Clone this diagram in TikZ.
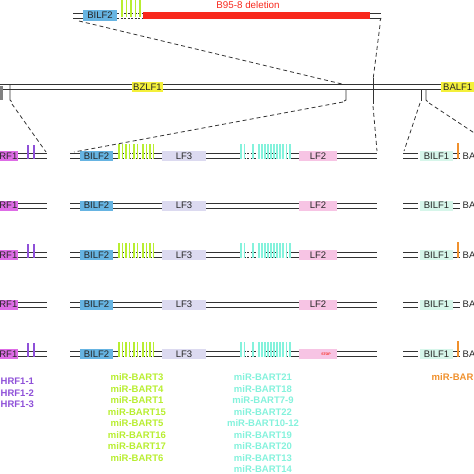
\documentclass[tikz,border=0pt]{standalone}
\usepackage{fontspec}
\setmainfont{Liberation Sans}
\usetikzlibrary{positioning}

\definecolor{strand}{HTML}{333333}
\definecolor{bilftwo}{HTML}{66B4E2}
\definecolor{zyellow}{HTML}{F4F03A}
\definecolor{lfthree}{HTML}{DCDAF0}
\definecolor{lftwo}{HTML}{F7C4E4}
\definecolor{bilfone}{HTML}{D6F6EA}
\definecolor{hrfmag}{HTML}{DE6CE6}
\definecolor{clustone}{HTML}{B8EE30}
\definecolor{clusttwo}{HTML}{84F2DC}
\definecolor{hrfpurple}{HTML}{8E50D8}
\definecolor{bartorange}{HTML}{F0902C}
\definecolor{delred}{HTML}{F8281C}

\newcommand{\dnastrand}[3]{\draw[dna] (#1,#3-2.5) -- (#2,#3-2.5) (#1,#3+2.5) -- (#2,#3+2.5);}
\newcommand{\dnagap}[3]{\draw[dna, dash pattern=on 2pt off 1.5pt] (#1,#3-2.5) -- (#2,#3-2.5) (#1,#3+2.5) -- (#2,#3+2.5);}

\tikzset{
  dna/.style={draw=strand, line width=0.9pt},
  gene/.style={minimum height=10pt, inner sep=1pt, text=black!85, font=\fontsize{9.5}{10}\selectfont},
  zoomline/.style={draw=strand, line width=0.8pt, dash pattern=on 4pt off 3pt},
  mirtick/.style={line width=1.2pt},
  mirlabel/.style={inner sep=0pt, font=\bfseries\fontsize{9.5}{10}\selectfont},
}

\begin{document}
\begin{tikzpicture}[x=1pt,y=-1pt]
    \useasboundingbox (0,0) rectangle (474,474);
    \clip (0,0) rectangle (474,474);

    % B95-8 deletion (top)
    \dnastrand{73}{143}{15.5}
    \dnastrand{370}{381}{15.5}
    \fill[white] (117,11) rectangle (143,20);
    \dnagap{117}{143}{15.5}
    \foreach \t in {122,126.5,131,135.5,140}
        \draw[mirtick, clustone] (\t,0) -- (\t,17);
    \fill[delred] (143,12) rectangle (370,19);
    \node[gene, fill=bilftwo, minimum width=34pt, minimum height=11pt] (bilf2-top) at (100,15.5) {BILF2};
    \node[text=delred, inner sep=0pt, font=\fontsize{9.8}{10}\selectfont] (deletion) at (248,4.5) {B95-8 deletion};
    \draw[dna] (381,18) -- (380,21);
    \coordinate (del-left) at (79,21);
    \coordinate (del-right) at (380,25);

    % EBV genome
    \dnastrand{0}{474}{87}
    \node[gene, fill=zyellow, minimum width=28pt] (bzlf1) at (147.5,87) {BZLF1};
    \node[gene, fill=zyellow, minimum width=34pt, anchor=west] (balf1) at (440.5,87) {BALF1};
    \draw[gray, line width=2.5pt] (1.5,86) -- (1.5,100);
    \draw[dna] (10,84.5) -- (10,100) -- (11.5,101.5);
    \draw[dna] (346,89.5) -- (346,100) -- (344,101);
    \draw[dna] (373,78) -- (373,104);
    \draw[dna] (421,89.5) -- (421,101);
    \draw[dna] (426,89.5) -- (426,100) -- (427.5,101.5);
    \coordinate (hrf-tick) at (12,104);
    \coordinate (bart-tick) at (343,102);
    \coordinate (bart-end) at (373,106);
    \coordinate (bilf1-tick) at (420,103);
    \coordinate (balf1-tick) at (429,103);
    \coordinate (off-right) at (500,150);

    \draw[zoomline] (del-left) -- (342,84);
    \draw[zoomline] (del-right) -- (373,80);

    % mutant rows
    \foreach \r/\y/\mirs in {1/156/1, 2/205.5/0, 3/255/1, 4/304.5/0, 5/354/1} {
        \dnastrand{0}{47}{\y}
        \dnastrand{403}{418}{\y}
        \dnastrand{452}{460}{\y}
        \ifnum\mirs=1
            \dnastrand{70}{118}{\y}
            \dnastrand{154}{240}{\y}
            \dnastrand{291}{377}{\y}
            \dnagap{118}{154}{\y}
            \dnagap{240}{291}{\y}
            \foreach \t in {28,34}
                \draw[mirtick, hrfpurple, line width=1.4pt] (\t,\y-11) -- (\t,\y+3);
            \foreach \t in {119,122.5,126,129.5,134,137.5,143,146.5,150,153.5}
                \draw[mirtick, clustone] (\t,\y-12) -- (\t,\y+3);
            \foreach \t in {241,244.5,253,259,262,265,268,271,274,277,280,283,286.5,290}
                \draw[mirtick, clusttwo] (\t,\y-12) -- (\t,\y+3);
            \draw[mirtick, bartorange, line width=1.6pt] (458,\y-13) -- (458,\y+3);
        \else
            \dnastrand{70}{377}{\y}
        \fi
        \node[gene, fill=hrfmag, anchor=east, inner xsep=0.5pt] (bhrf1-\r) at (18,\y) {RF1};
        \node[gene, fill=bilftwo, minimum width=33pt] (bilf2-\r) at (96.5,\y) {BILF2};
        \node[gene, fill=lfthree, minimum width=44pt] (lf3-\r) at (184,\y) {LF3};
        \node[gene, fill=bilfone, minimum width=33pt] (bilf1-\r) at (436.5,\y) {BILF1};
        \node[gene, anchor=west, inner xsep=0pt] (balf1-\r) at (462.5,\y) {BA};
        \ifnum\r=5
            \node[gene, fill=lftwo, minimum width=38pt] (lf2-\r) at (318,\y) {};
            \node[text=delred, inner sep=0pt, font=\bfseries\fontsize{3.5}{4}\selectfont] (stop) at (326,\y) {STOP};
        \else
            \node[gene, fill=lftwo, minimum width=38pt] (lf2-\r) at (318,\y) {LF2};
        \fi
    }
    \coordinate (row-hrf) at (46,152);
    \coordinate (row-bart) at (74,152);
    \coordinate (row-end) at (377,151);
    \coordinate (row-bilf1) at (404,151);

    \draw[zoomline] (hrf-tick) -- (row-hrf);
    \draw[zoomline] (bart-tick) -- (row-bart);
    \draw[zoomline] (bart-end) -- (row-end);
    \draw[zoomline] (bilf1-tick) -- (row-bilf1);
    \draw[zoomline] (balf1-tick) -- (off-right);

    % miRNA names
    \foreach \name [count=\i] in {HRF1-1,HRF1-2,HRF1-3}
        \node[mirlabel, text=hrfpurple, anchor=west] (hrf-\i) at (0.5,370+11.5*\i) {\name};
    \foreach \name [count=\i] in {3,4,1,15,5,16,17,6}
        \node[mirlabel, text=clustone] (cla-\i) at (137,366+11.5*\i) {miR-BART\name};
    \foreach \name [count=\i] in {21,18,7-9,22,10-12,19,20,13,14}
        \node[mirlabel, text=clusttwo] (clb-\i) at (263,366+11.5*\i) {miR-BART\name};
    \node[mirlabel, text=bartorange, anchor=west] (bart2) at (431.5,377.5) {miR-BAR};
\end{tikzpicture}
\end{document}
